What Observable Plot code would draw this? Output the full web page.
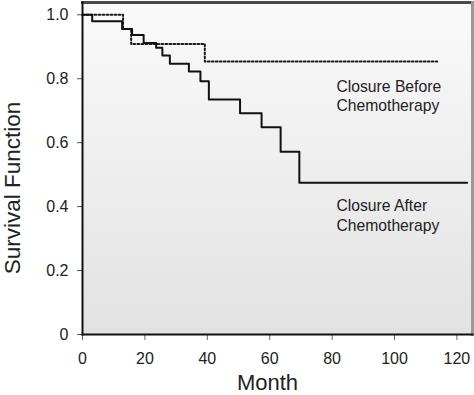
<!DOCTYPE html>
<html><head><meta charset="utf-8">
<script src="https://cdn.jsdelivr.net/npm/d3@7"></script>
<script src="https://cdn.jsdelivr.net/npm/@observablehq/plot@0.6"></script>
<style>body{margin:0;background:#fff} svg{display:block}</style>
</head><body><div id="chart"></div>
<script>
const afterMonths = [0, 3.1, 12.7, 15.9, 19.6, 23.6, 25.6, 28.0, 34.1, 37.8, 40.5, 50.5, 57.4, 63.5, 69.5, 123.3];
const afterSurvival = [1.0, 0.980, 0.956, 0.937, 0.912, 0.897, 0.873, 0.847, 0.823, 0.792, 0.735, 0.692, 0.648, 0.572, 0.475, 0.475];
const beforeMonths = [0, 13.0, 15.6, 39.2, 113.7];
const beforeSurvival = [1.0, 0.956, 0.909, 0.854, 0.854];
const xTicks = [0, 20, 40, 60, 80, 100, 120];
const yTicks = [0, 0.2, 0.4, 0.6, 0.8, 1.0];
const seriesLabels = ["Closure Before\nChemotherapy", "Closure After\nChemotherapy"];

const afterData = afterMonths.map((m, i) => ({month: m, s: afterSurvival[i]}));
const beforeData = beforeMonths.map((m, i) => ({month: m, s: beforeSurvival[i]}));
const font = "'Liberation Sans', Arial, Helvetica, sans-serif";

const plot = Plot.plot({
  width: 474, height: 395,
  marginLeft: 82, marginRight: 2, marginTop: 2, marginBottom: 61,
  style: {fontFamily: font, background: "transparent", overflow: "visible"},
  x: {domain: [0, 125], label: null},
  y: {domain: [0, 1.0385], label: null},
  marks: [
    Plot.frame({fill: "url(#bgGrad)", stroke: null}),
    Plot.frame({anchor: "top", stroke: "#4a4a4a", strokeWidth: 3}),
    Plot.frame({anchor: "right", stroke: "#9a9a9a", strokeWidth: 3}),
    Plot.axisX({ticks: xTicks, tickSize: 6, tickPadding: 12, fontSize: 16, stroke: "#666", fill: "#222", label: null}),
    Plot.axisY({ticks: yTicks, tickSize: 5, tickPadding: 9, fontSize: 16, stroke: "#555", fill: "#222", label: null,
      tickFormat: d => d === 0 ? "0" : d.toFixed(1)}),
    Plot.frame({anchor: "left", stroke: "#111", strokeWidth: 2}),
    Plot.frame({anchor: "bottom", stroke: "#111", strokeWidth: 2}),
    Plot.line(beforeData, {x: "month", y: "s", curve: "step-after", stroke: "#1a1a1a", strokeWidth: 2, strokeDasharray: "1.8,2.2"}),
    Plot.line(afterData, {x: "month", y: "s", curve: "step-after", stroke: "#111", strokeWidth: 2}),
    Plot.text([seriesLabels[0]], {x: () => 81.4, y: () => 0.803, textAnchor: "start", lineAnchor: "top", fontSize: 15.7, lineHeight: 1.25, fill: "#222"}),
    Plot.text([seriesLabels[1]], {x: () => 81.4, y: () => 0.4295, textAnchor: "start", lineAnchor: "top", fontSize: 15.7, lineHeight: 1.25, fill: "#222"}),
    Plot.text(["Survival Function"], {frameAnchor: "left", textAnchor: "middle", rotate: -90, dx: -70, dy: 19.5, fontSize: 22.5, fill: "#222"}),
    Plot.text(["Month"], {frameAnchor: "bottom", lineAnchor: "top", dx: -10, dy: 40, fontSize: 22, fill: "#222"})
  ]
});

d3.select(plot).insert("defs", ":first-child")
  .append("linearGradient").attr("id", "bgGrad").attr("x1", 0).attr("y1", 0).attr("x2", 0).attr("y2", 1)
  .call(g => {
    g.append("stop").attr("offset", 0).attr("stop-color", "#fafafa");
    g.append("stop").attr("offset", 1).attr("stop-color", "#e2e2e2");
  });

document.getElementById("chart").appendChild(plot);
</script>
</body></html>
